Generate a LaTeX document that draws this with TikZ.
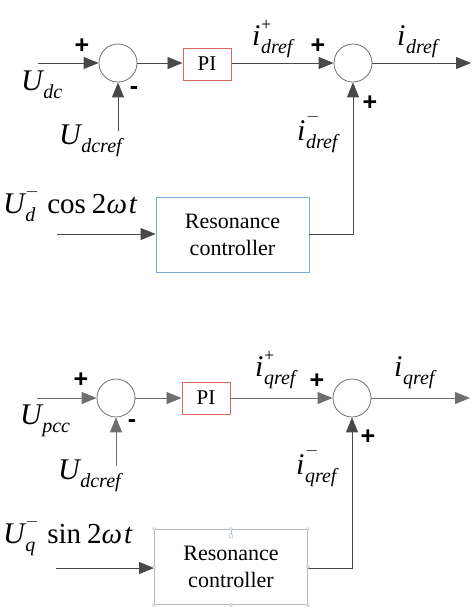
\documentclass[tikz,border=0pt]{standalone}
\usepackage{fontspec}
\setmainfont{Liberation Serif}
\newfontfamily\plusfont{Liberation Sans}
\usetikzlibrary{arrows.meta}
\definecolor{wire}{HTML}{484848}
\definecolor{wiretwo}{HTML}{6E6E6E}
\definecolor{ring}{HTML}{707070}
\definecolor{pired}{HTML}{E06464}
\definecolor{rcblue}{HTML}{7FAAD8}
\definecolor{rcgray}{HTML}{B4BCC4}
\newcommand\mybigf{\fontsize{30}{30}\selectfont\itshape}
\newcommand\mysubf{\fontsize{20}{20}\selectfont\itshape}
\newcommand\mysupf{\fontsize{18}{18}\selectfont\upshape}
% main letter, superscript, subscript
\newcommand\mysym[3]{{\mybigf #1}\kern0.5pt\rlap{\raisebox{15pt}{\mysupf #2}}\raisebox{-8pt}{\mysubf #3}}
\begin{document}
\begin{tikzpicture}[x=1pt,y=-1pt,
  wirest/.style={draw=wire,line width=0.9pt},
  arr/.style={wirest,-{Triangle[length=15pt,width=12pt]}},
  arrtwo/.style={arr,draw=wiretwo},
  sumst/.style={circle,draw=ring,line width=0.8pt,minimum size=38pt,inner sep=0pt},
  pist/.style={draw=pired,line width=1pt,minimum width=48pt,minimum height=32pt,inner sep=0pt,font=\fontsize{21}{21}\selectfont},
  rcst/.style={line width=0.9pt,minimum width=153pt,minimum height=75pt,inner sep=0pt,align=center,font=\fontsize{22}{27}\selectfont},
  plusst/.style={inner sep=0pt,font=\fontsize{25}{25}\selectfont\plusfont\bfseries},
  lbl/.style={inner sep=0pt,anchor=base west},
  handle/.style={circle,draw=rcgray,fill=white,line width=0.5pt,minimum size=3pt,inner sep=0pt}]
\useasboundingbox (0,0) rectangle (474,611);
% ---------------- top loop ----------------
\coordinate (in1) at (38,63);
\node[sumst] (s1) at (118,63) {};
\node[pist] (pi1) at (207,64) {PI};
\node[sumst] (s2) at (353,63) {};
\coordinate (out1) at (471,63);
\coordinate (ref1) at (118,131);
\node[rcst,draw=rcblue] (rc1) at (232.5,234.5) {Resonance\\controller};
\coordinate (rin1) at (57,234);
\coordinate (j1) at (353,234);
\draw[arr] (in1) -- (s1);
\draw[arr] (s1) -- (s1 -| pi1.west);
\draw[arr] (pi1.east |- s2) -- (s2);
\draw[arr] (s2) -- (out1);
\draw[arr] (ref1) -- (s1);
\draw[arr] (rin1) -- (rin1 -| rc1.west);
\draw[arr] (rin1 -| rc1.east) -- (j1) -- (s2);
\node[plusst] (p11) at (82,46) {+};
\node[plusst] (m11) at (134,91) {-};
\node[plusst] (p12) at (318,46) {+};
\node[plusst] (p13) at (370,103) {+};
\node[lbl] (lUdc) at (21,90) {\mysym{U}{}{dc}};
\node[lbl] (lUdcref) at (59,144) {\mysym{U}{}{dcref}};
\node[lbl] (lip) at (252,45) {\mysym{i}{+}{dref}};
\node[lbl] (lout) at (397,45) {\mysym{i}{}{dref}};
\node[lbl] (lim) at (297,140) {\mysym{i}{\raisebox{4pt}{$-$}}{dref}};
\node[lbl] (lUd) at (3,213) {\mysym{U}{\raisebox{2pt}{$-$}}{d}\kern12pt{\fontsize{29}{29}\selectfont cos\kern6pt2\itshape ω\kern2pt t}};
% ---------------- bottom loop ----------------
\coordinate (in2) at (37,398);
\node[sumst] (s3) at (116,398) {};
\node[pist] (pi2) at (206,398) {PI};
\node[sumst] (s4) at (352,398) {};
\coordinate (out2) at (470,398);
\coordinate (ref2) at (116,466);
\node[rcst,draw=rcgray] (rc2) at (231,567) {Resonance\\controller};
\coordinate (rin2) at (56,568);
\coordinate (j2) at (352,568);
\draw[arrtwo] (in2) -- (s3);
\draw[arrtwo] (s3) -- (s3 -| pi2.west);
\draw[arrtwo] (pi2.east |- s4) -- (s4);
\draw[arrtwo] (s4) -- (out2);
\draw[arrtwo] (ref2) -- (s3);
\draw[arr] (rin2) -- (rin2 -| rc2.west);
\draw[arr] (rin2 -| rc2.east) -- (j2) -- (s4);
\node[plusst] (p21) at (81,380) {+};
\node[plusst] (m21) at (132,424) {-};
\node[plusst] (p22) at (317,381) {+};
\node[plusst] (p23) at (368,437) {+};
\node[lbl] (lUpcc) at (20,424) {\mysym{U}{}{pcc}};
\node[lbl] (lUdcref2) at (58,479) {\mysym{U}{}{dcref}};
\node[lbl] (lip2) at (255,376) {\mysym{i}{+}{qref}};
\node[lbl] (lout2) at (394,376) {\mysym{i}{}{qref}};
\node[lbl] (lim2) at (296,474) {\mysym{i}{\raisebox{4pt}{$-$}}{qref}};
\node[lbl] (lUq) at (3,543) {\mysym{U}{\raisebox{2pt}{$-$}}{q}\kern12pt{\fontsize{29}{29}\selectfont sin\kern6pt2\itshape ω\kern2pt t}};
% selection handles of the lower box
\coordinate (rot) at ([yshift=-7pt]rc2.north);
\draw[draw=rcgray,line width=0.5pt] (rc2.north) -- (rot);
\node[handle,minimum size=4pt] (hrot) at (rot) {};
\foreach \a in {north west,north,north east,east,south east,south,south west,west}
  \node[handle] at (rc2.\a) {};
\end{tikzpicture}
\end{document}
